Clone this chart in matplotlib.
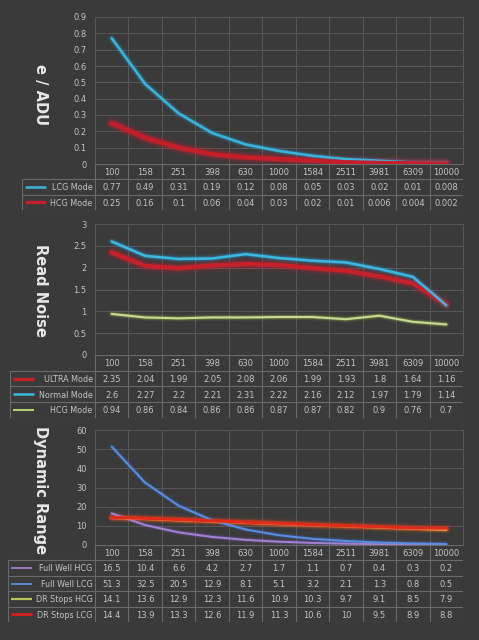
import matplotlib
matplotlib.use("Agg")
import matplotlib.pyplot as plt
import numpy as np

# ISO gains shared by all three charts
iso = ["100", "158", "251", "398", "630", "1000", "1584", "2511", "3981", "6309", "10000"]

# e / ADU
lcg_gain = [0.77, 0.49, 0.31, 0.19, 0.12, 0.08, 0.05, 0.03, 0.02, 0.01, 0.008]
hcg_gain = [0.25, 0.16, 0.1, 0.06, 0.04, 0.03, 0.02, 0.01, 0.006, 0.004, 0.002]

# read noise
ultra_rn = [2.35, 2.04, 1.99, 2.05, 2.08, 2.06, 1.99, 1.93, 1.8, 1.64, 1.16]
normal_rn = [2.6, 2.27, 2.2, 2.21, 2.31, 2.22, 2.16, 2.12, 1.97, 1.79, 1.14]
hcg_rn = [0.94, 0.86, 0.84, 0.86, 0.86, 0.87, 0.87, 0.82, 0.9, 0.76, 0.7]

# dynamic range
fw_hcg = [16.5, 10.4, 6.6, 4.2, 2.7, 1.7, 1.1, 0.7, 0.4, 0.3, 0.2]
fw_lcg = [51.3, 32.5, 20.5, 12.9, 8.1, 5.1, 3.2, 2.1, 1.3, 0.8, 0.5]
dr_hcg = [14.1, 13.6, 12.9, 12.3, 11.6, 10.9, 10.3, 9.7, 9.1, 8.5, 7.9]
dr_lcg = [14.4, 13.9, 13.3, 12.6, 11.9, 11.3, 10.6, 10, 9.5, 8.9, 8.8]

BG = "#3a3a3a"
GRID = "#585858"
TXT = "#c4c4c4"
W, H = 479, 640

fig = plt.figure(figsize=(W / 100, H / 100), dpi=100, facecolor=BG)


def box(x0, y0, x1, y1):  # pixel box (top-left origin) -> figure rect
    return [x0 / W, 1 - y1 / H, (x1 - x0) / W, (y1 - y0) / H]


def glowline(ax, y, color, lw, glow):
    x = np.arange(len(y))
    for k, a in [(3.2, 0.08), (2.3, 0.14), (1.6, 0.25)]:
        ax.plot(x, y, color=glow, lw=lw * k, alpha=a, solid_capstyle="round", zorder=3)
    ax.plot(x, y, color=color, lw=lw, solid_capstyle="round", zorder=4)


def chart(top, bottom, ticks, series, ylabel, label_y):
    ax = fig.add_axes(box(95, top, 463, bottom))
    ax.set_facecolor(BG)
    for name, y, color, lw, glow, keycol in series:
        glowline(ax, y, color, lw, glow)
    ax.set_xlim(-0.5, len(iso) - 0.5)
    ax.set_ylim(ticks[0], ticks[-1])
    ax.set_yticks(ticks)
    ax.set_yticklabels([f"{t:g}" for t in ticks], color=TXT, fontsize=6)
    ax.set_xticks(np.arange(len(iso) + 1) - 0.5, minor=False)
    ax.set_xticklabels([])
    ax.tick_params(length=0, pad=6)
    ax.grid(True, color=GRID, lw=0.7)
    for s in ax.spines.values():
        s.set_color(GRID)
        s.set_linewidth(0.7)
    fig.text(40 / W, 1 - label_y / H, ylabel, rotation=270, color="#e8e8e8",
             fontsize=10.5, fontweight="bold", ha="center", va="center")
    return ax


def table(left, top, bottom, series):
    n = len(series)
    cw = (463 - 95) / len(iso)
    L = (95 - left) / cw
    tx = fig.add_axes(box(left, top, 463, bottom))
    tx.set_xlim(-0.5 - L, len(iso) - 0.5)
    tx.set_ylim(n + 1, 0)
    tx.axis("off")
    lc = "#6a6a6a"
    x0 = -0.5 - L
    xr = len(iso) - 0.5
    # header row has no cell in the legend column
    tx.plot([-0.5, xr], [0, 0], color=lc, lw=0.8)
    for i in range(len(iso) + 1):
        tx.plot([i - 0.5, i - 0.5], [0, n + 1], color=lc, lw=0.8)
    tx.plot([x0, x0], [1, n + 1], color=lc, lw=0.8)
    for r in range(1, n + 2):
        tx.plot([x0, xr], [r, r], color=lc, lw=0.8)
    for i, s in enumerate(iso):
        tx.text(i, 0.55, s, color=TXT, fontsize=6, ha="center", va="center")
    for r, (name, y, color, lw, glow, keycol) in enumerate(series, start=1):
        tx.plot([x0 + 0.1, x0 + 0.72], [r + 0.5, r + 0.5], color=keycol,
                lw=min(lw, 2.4), solid_capstyle="butt")
        tx.text(-0.57, r + 0.55, name, color=TXT, fontsize=5.8, ha="right", va="center")
        for i, v in enumerate(y):
            tx.text(i, r + 0.55, f"{v:g}", color=TXT, fontsize=6, ha="center", va="center")


s1 = [("LCG Mode", lcg_gain, "#3bb4dc", 1.8, "#2a9fd0", "#3bb4dc"),
      ("HCG Mode", hcg_gain, "#c41e2a", 3.2, "#d02030", "#c41e2a")]
chart(17, 164, np.arange(0, 0.91, 0.1).round(1), s1, "e / ADU", 95)
table(22, 164, 210, s1)

s2 = [("ULTRA Mode", ultra_rn, "#c8202a", 3.0, "#d02030", "#c8202a"),
      ("Normal Mode", normal_rn, "#3cb8e0", 1.8, "#2aa6e0", "#3cb8e0"),
      ("HCG Mode", hcg_rn, "#c8d898", 1.5, "#a8d040", "#b4cc6c")]
chart(224, 355, np.arange(0, 3.01, 0.5), s2, "Read Noise", 290)
table(10, 355, 418, s2)

s3 = [("Full Well HCG", fw_hcg, "#a082d0", 1.4, "#8a60c8", "#9a7cc8"),
      ("Full Well LCG", fw_lcg, "#5a8ede", 1.4, "#4070d8", "#5a8ed0"),
      ("DR Stops HCG", dr_hcg, "#f0a040", 1.6, "#f08020", "#b8c45a"),
      ("DR Stops LCG", dr_lcg, "#e02a1c", 2.2, "#e84020", "#d02020")]
chart(430, 545, np.arange(0, 61, 10), s3, "Dynamic Range", 490)
table(8, 545, 622, s3)

fig.savefig("out.png", dpi=100, facecolor=BG)
